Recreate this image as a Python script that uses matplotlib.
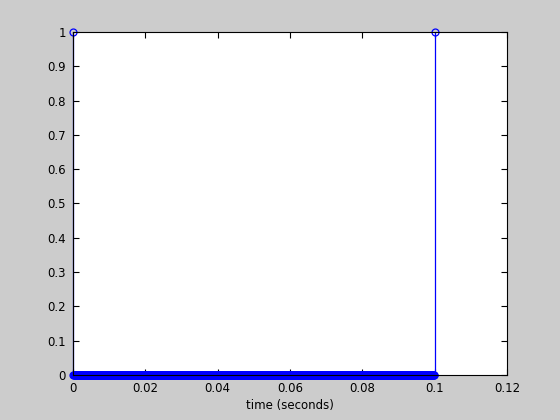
import matplotlib
matplotlib.use('Agg')
import matplotlib.pyplot as plt
import numpy as np

# ── Data: impulse train sampled at 8 kHz ─────────────────────────────────────
fs = 8000.0
n_samples = 801
time_s = np.arange(n_samples) / fs
impulse_idx = [0, 800]
signal = np.zeros(n_samples)
signal[impulse_idx] = 1.0

xticks = [0, 0.02, 0.04, 0.06, 0.08, 0.1, 0.12]
yticks = [0, 0.1, 0.2, 0.3, 0.4, 0.5, 0.6, 0.7, 0.8, 0.9, 1]

# ── Figure ───────────────────────────────────────────────────────────────────
fig = plt.figure(figsize=(5.6, 4.2), dpi=100, facecolor='#cccccc')
ax = fig.add_axes([0.1304, 0.107, 0.775, 0.817])

# stem plot: vertical lines plus hollow circle markers
ax.vlines(time_s, 0, signal, colors='#0000ff', linewidth=0.9, clip_on=False, zorder=2)
ax.plot(time_s, signal, 'o', color='#0000ff', markerfacecolor='none',
        markersize=5, markeredgewidth=0.9, clip_on=False, zorder=2)

ax.set_xlim(0, 0.12)
ax.set_ylim(0, 1)
ax.set_xticks(xticks)
ax.set_yticks(yticks)
ax.set_xticklabels(['%g' % v for v in xticks], fontsize=8.5)
ax.set_yticklabels(['%g' % v for v in yticks], fontsize=8.5)
ax.tick_params(direction='in', length=4, width=0.8, top=True, right=True, pad=5)
for s in ax.spines.values():
    s.set_linewidth(0.8)
    s.set_zorder(3)
ax.set_xlabel('time (seconds)', fontsize=8.5, labelpad=3)

fig.savefig('out.png', dpi=100, facecolor=fig.get_facecolor())
